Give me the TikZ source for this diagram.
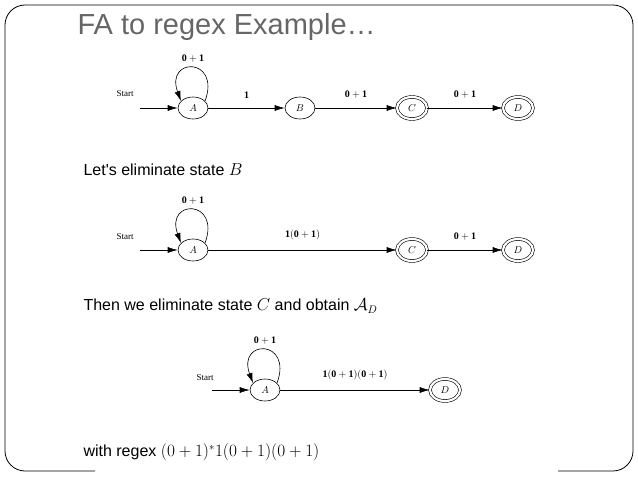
\documentclass[tikz,border=0pt]{standalone}
\usepackage{fontspec}
\usepackage{amsmath}
\setmainfont{Liberation Serif}
\newfontfamily\slidefont{Liberation Sans}
\usetikzlibrary{shapes.geometric,arrows.meta}
\tikzset{
  state/.style={ellipse, draw, semithick, minimum width=30pt, minimum height=22pt, inner sep=0pt, font=\normalsize},
  accept/.style={state, double, double distance=2.2pt},
  edge/.style={semithick, -{Latex[length=10pt,width=6pt]}},
  lab/.style={font=\normalsize\bfseries},
  line/.style={font=\slidefont\fontsize{16}{18}\selectfont, anchor=west},
}
\begin{document}
\begin{tikzpicture}[x=1pt, y=-1pt]
    \useasboundingbox (0,0) rectangle (638,479);
    % frame
    \draw[thick] (95,471) -- (25,471) arc[start angle=90, end angle=180, radius=20] -- (5,25)
      arc[start angle=180, end angle=270, radius=20] -- (613,5)
      arc[start angle=-90, end angle=0, radius=20] -- (633,451)
      arc[start angle=0, end angle=90, radius=20] -- (558,471);
    \node[anchor=west, text=black!60, font=\slidefont\fontsize{29}{31}\selectfont] (title) at (74,27) {FA to regex Example\dots};
    % first automaton
    \node[state] (A1) at (193,108) {$A$};
    \node[state] (B1) at (300,108) {$B$};
    \node[accept] (C1) at (412,108) {$C$};
    \node[accept] (D1) at (518,108) {$D$};
    \node[font=\small] (s1) at (125,94) {Start};
    \coordinate (i1) at (140,108);
    \draw[edge] (i1) -- (A1);
    \draw[edge] (A1) -- node[lab, above=6pt] {1} (B1);
    \draw[edge] (B1) -- node[lab, above=6pt] {$\mathbf{0+1}$} (C1);
    \draw[edge] (C1) -- node[lab, above=6pt] {$\mathbf{0+1}$} (D1);
    \draw[edge] (A1.30) to[out=70, in=110, looseness=5] node[lab, above=2pt] {$\mathbf{0+1}$} (A1.150);
    \node[line] (t1) at (80,170) {Let's eliminate state $B$};
    % second automaton
    \node[state] (A2) at (193,250) {$A$};
    \node[accept] (C2) at (412,250) {$C$};
    \node[accept] (D2) at (518,250) {$D$};
    \node[font=\small] (s2) at (125,237) {Start};
    \coordinate (i2) at (140,250);
    \draw[edge] (i2) -- (A2);
    \draw[edge] (A2) -- node[lab, above=6pt] {$\mathbf{1(0+1)}$} (C2);
    \draw[edge] (C2) -- node[lab, above=6pt] {$\mathbf{0+1}$} (D2);
    \draw[edge] (A2.30) to[out=70, in=110, looseness=5] node[lab, above=2pt] {$\mathbf{0+1}$} (A2.150);
    \node[line] (t2) at (80,306) {Then we eliminate state $C$ and obtain $\mathcal{A}_D$};
    % third automaton
    \node[state] (A3) at (265,390) {$A$};
    \node[accept] (D3) at (445,390) {$D$};
    \node[font=\small] (s3) at (205,378) {Start};
    \coordinate (i3) at (212,390);
    \draw[edge] (i3) -- (A3);
    \draw[edge] (A3) -- node[lab, above=6pt] {$\mathbf{1(0+1)(0+1)}$} (D3);
    \draw[edge] (A3.30) to[out=70, in=110, looseness=5] node[lab, above=2pt] {$\mathbf{0+1}$} (A3.150);
    \node[line] (t3) at (80,452) {with regex $(0+1)^*1(0+1)(0+1)$};
\end{tikzpicture}
\end{document}
